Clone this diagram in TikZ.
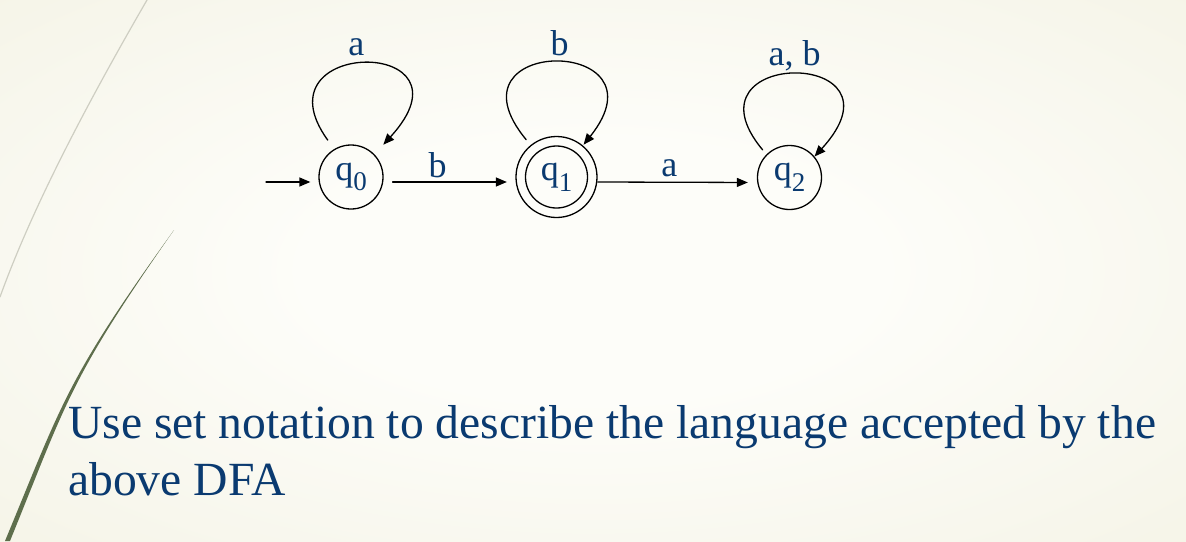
\documentclass[tikz,border=0pt]{standalone}
\usepackage{fontspec}
\setmainfont{Liberation Serif}
\usetikzlibrary{arrows.meta,positioning}
\definecolor{ink}{RGB}{10,58,112}
\definecolor{bgin}{RGB}{253,253,249}
\definecolor{bgout}{RGB}{234,231,206}
\definecolor{swoosh}{RGB}{94,110,76}
\definecolor{faint}{RGB}{206,206,194}
\pgfdeclareradialshading{slide}{\pgfpoint{0bp}{0bp}}{color(0bp)=(bgin); color(12bp)=(bgin); color(72bp)=(bgout)}
\newcommand{\qsub}[1]{q\raisebox{-0.3em}{\fontsize{27}{27}\selectfont #1}}
\begin{document}
\begin{tikzpicture}[x=1pt, y=-1pt, line join=round, line cap=round,
	>={Triangle[length=11pt,width=9pt]},
	state/.style={circle, draw, line width=1.3pt, minimum size=64pt, inner sep=0pt, text=ink, font=\fontsize{36}{36}\selectfont},
	edge/.style={->, line width=1.3pt},
	lbl/.style={text=ink, font=\fontsize{36}{36}\selectfont, text depth=0pt, inner sep=0pt},
	prose/.style={anchor=base west, text=ink, inner sep=0pt, font=\fontsize{47.6}{57}\selectfont}]
	\useasboundingbox (0,0) rectangle (1186,541);
	\shade[shading=slide] (0,0) rectangle (1186,541);
	% slide decoration
	\draw[faint, line width=1.2pt] (147,0) .. controls (95,90) and (35,200) .. (0,297);
	\fill[swoosh] (174,230) .. controls (66,380) and (63,401) .. (5,541) -- (10,541)
		.. controls (67,401) and (69,380) .. (174,230) -- cycle;
	% the DFA
	\node[state] (q0) at (351,177) {\qsub{0}};
	\node[state, minimum size=81pt] (q1) at (556.5,177) {\qsub{1}};
	\node[state, minimum size=62pt] (q1ring) at (q1) {};
	\node[state] (q2) at (789.5,177.5) {\qsub{2}};
	\coordinate (entry) at (266,182);
	\draw[edge, shorten >=8pt] (entry) -- ([yshift=-5pt]q0.west);
	\draw[edge, shorten <=9pt, shorten >=8.5pt] ([yshift=-5pt]q0.east) -- node[lbl, pos=0.41, above=4pt]{b} ([yshift=-5pt]q1.west);
	\draw[edge, shorten >=9pt] ([yshift=-5pt]q1.east) -- node[lbl, pos=0.45, above=5pt]{a} ([yshift=-5pt]q2.west);
	\draw[edge, shorten <=11pt, shorten >=13pt] (q0.121) .. controls +(-81,-112) and +(108,-118)
		.. node[lbl, above=9pt, xshift=-8pt]{a} (q0.44);
	\draw[edge, shorten <=7pt, shorten >=1pt] (q1.129) .. controls +(-91,-110) and +(88,-110)
		.. node[lbl, above=7pt, xshift=4pt]{b} (q1.50);
	\draw[edge, shorten <=6pt] (q2.135) .. controls +(-89,-107) and +(100,-109)
		.. node[lbl, above=8pt]{a, b} (q2.40);
	% question
	\node[prose] (ask) at (68,438) {Use set notation to describe the language accepted by the};
	\node[prose] (ask2) at (68,495) {above DFA};
\end{tikzpicture}
\end{document}
